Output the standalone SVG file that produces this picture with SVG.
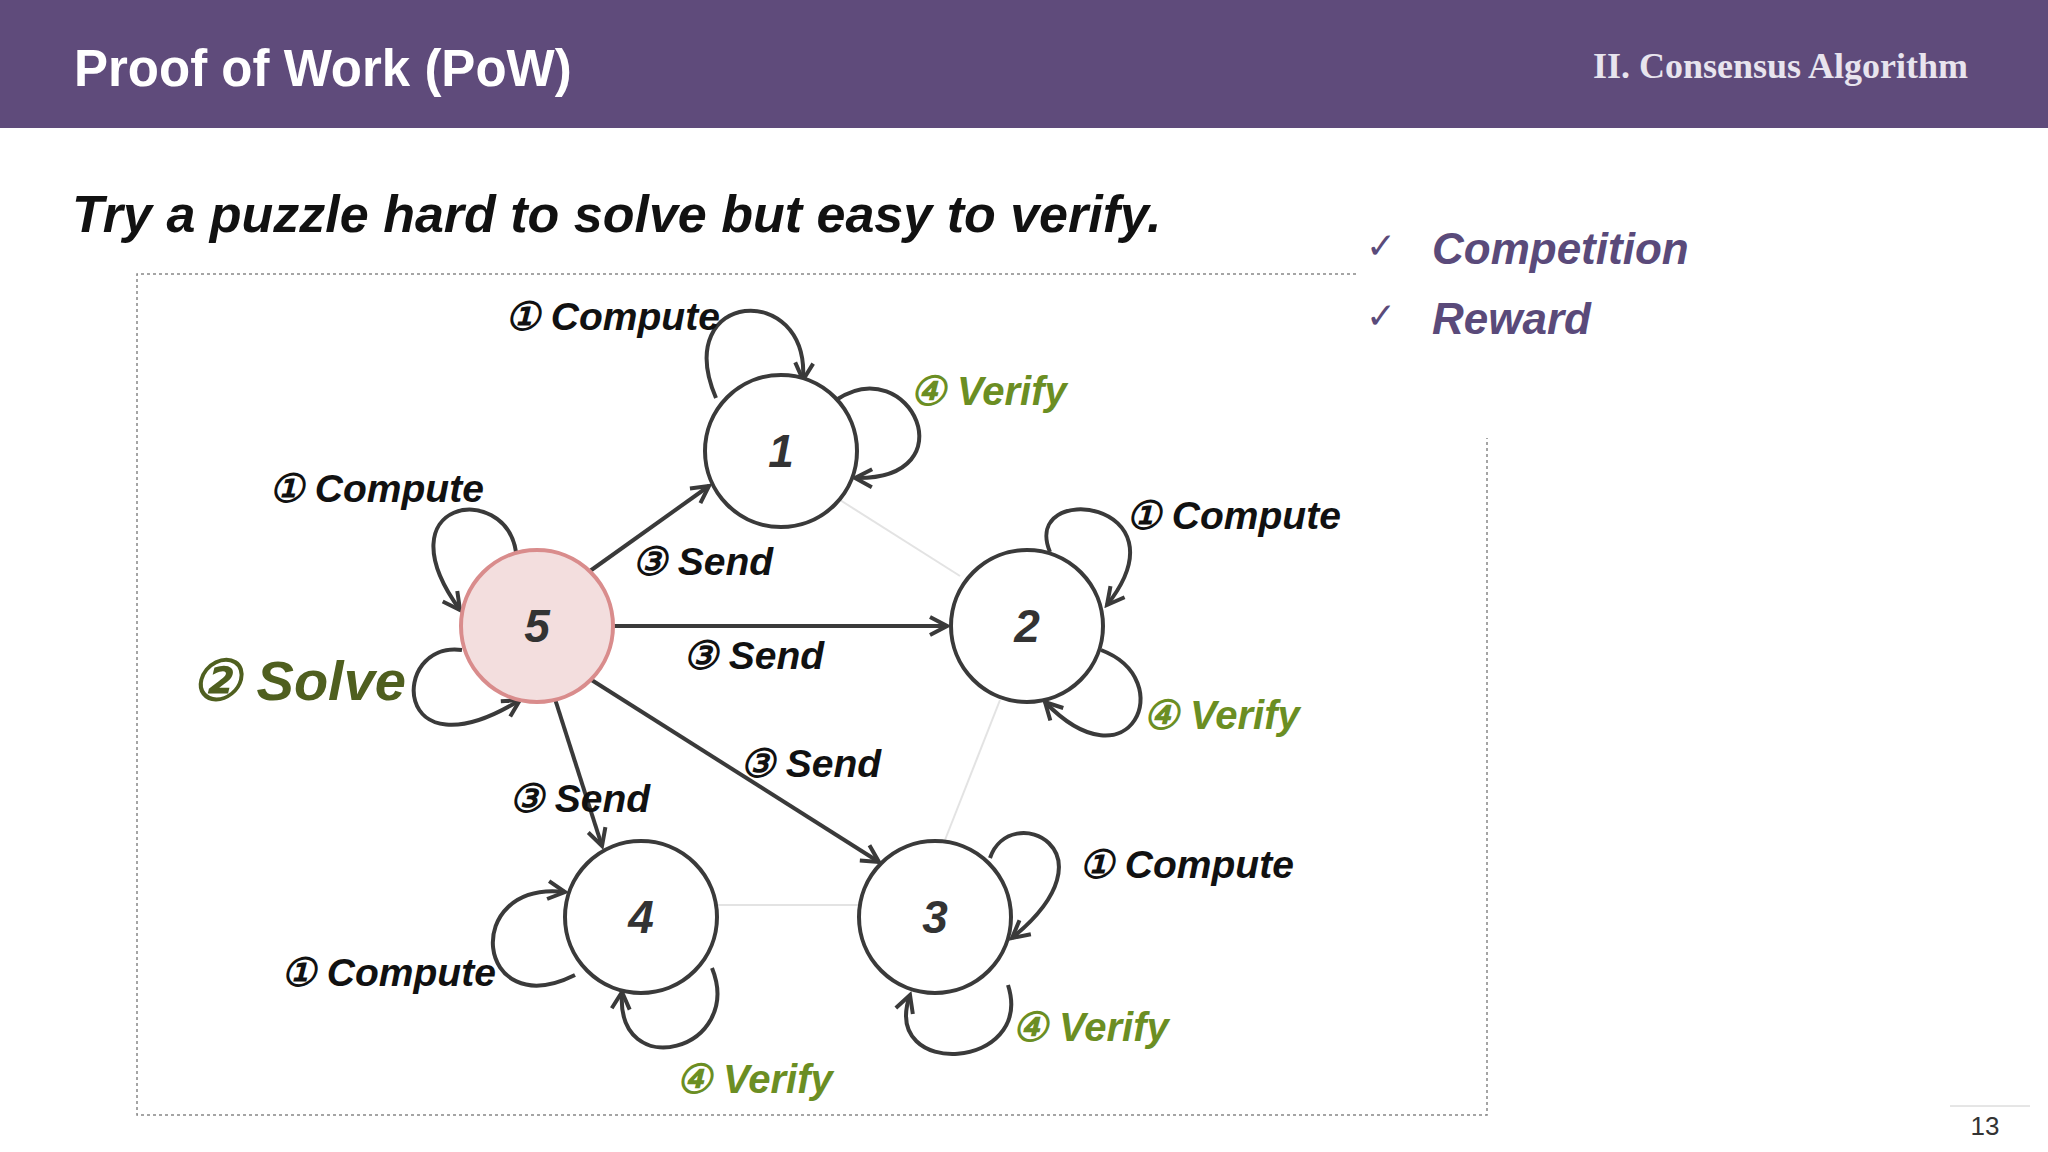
<svg xmlns="http://www.w3.org/2000/svg" width="2048" height="1152" viewBox="0 0 2048 1152">
<style>
.n{fill:#fff;stroke:#3a3a3a;stroke-width:4}
.num{font-family:"Liberation Sans",sans-serif;font-style:italic;font-weight:bold;font-size:46px;fill:#333;text-anchor:middle}
.lbl{font-family:"Liberation Sans",sans-serif;font-style:italic;font-weight:bold;font-size:39px;fill:#111}
.ver{font-family:"Liberation Sans",sans-serif;font-style:italic;font-weight:bold;font-size:40px;fill:#6b8e23}
.c{fill:none;stroke:#3a3a3a;stroke-width:4}
.faint{stroke:#e3e3e3;stroke-width:2}
.chk{font-family:"Liberation Sans",sans-serif;font-style:italic;font-weight:bold;font-size:44px;fill:#5a4a7a}
</style>
<defs>
<marker id="b" markerWidth="24" markerHeight="24" refX="20" refY="12" orient="auto" markerUnits="userSpaceOnUse" viewBox="0 0 24 24">
<path d="M3 3 L20 12 L3 21" fill="none" stroke="#3a3a3a" stroke-width="4"/>
</marker>
</defs>
<rect width="2048" height="1152" fill="#fff"/>
<rect width="2048" height="128" fill="#5f4b7b"/>
<text x="74" y="86" font-family="Liberation Sans,sans-serif" font-weight="bold" font-size="51" fill="#fff">Proof of Work (PoW)</text>
<text x="1968" y="78" text-anchor="end" font-family="Liberation Serif,serif" font-weight="bold" font-size="36" fill="#e8e4ee">II. Consensus Algorithm</text>
<text x="72" y="232" font-family="Liberation Sans,sans-serif" font-style="italic" font-weight="bold" font-size="52" fill="#111">Try a puzzle hard to solve but easy to verify.</text>
<path d="M1356 274 H137 V1115 H1487 V438" fill="none" stroke="#888" stroke-width="1.5" stroke-dasharray="3 3"/>
<g id="checklist">
<text x="1366" y="258" font-family="DejaVu Sans,sans-serif" font-size="36" fill="#5a4a7a">✓</text>
<text x="1432" y="264" class="chk">Competition</text>
<text x="1366" y="328" font-family="DejaVu Sans,sans-serif" font-size="36" fill="#5a4a7a">✓</text>
<text x="1432" y="334" class="chk">Reward</text>
</g>
<g id="connectors">
<line x1="840" y1="500" x2="960" y2="576" class="faint"/>
<line x1="1000" y1="700" x2="945" y2="840" class="faint"/>
<line x1="718" y1="905" x2="858" y2="905" class="faint"/>
<line x1="590" y1="571" x2="709" y2="486" class="c" marker-end="url(#b)"/>
<line x1="614" y1="626" x2="947" y2="626" class="c" marker-end="url(#b)"/>
<line x1="555" y1="699" x2="602" y2="846" class="c" marker-end="url(#b)"/>
<line x1="590" y1="679" x2="879" y2="862" class="c" marker-end="url(#b)"/>
<path d="M516 552 C505 480 380 500 460 610" class="c" marker-end="url(#b)"/>
<path d="M462 650 C390 640 390 780 520 700" class="c" marker-end="url(#b)"/>
<path d="M716 398 C670 290 810 280 803 380" class="c" marker-end="url(#b)"/>
<path d="M836 400 C910 350 970 480 855 478" class="c" marker-end="url(#b)"/>
<path d="M1050 552 C1020 480 1190 500 1107 605" class="c" marker-end="url(#b)"/>
<path d="M1101 650 C1180 680 1130 790 1045 702" class="c" marker-end="url(#b)"/>
<path d="M990 858 C1010 800 1120 850 1012 938" class="c" marker-end="url(#b)"/>
<path d="M1008 985 C1035 1070 880 1080 910 995" class="c" marker-end="url(#b)"/>
<path d="M575 975 C475 1025 460 880 565 892" class="c" marker-end="url(#b)"/>
<path d="M712 968 C745 1050 615 1085 622 992" class="c" marker-end="url(#b)"/>
</g>
<g id="node1"><circle cx="781" cy="451" r="76" class="n"/><text x="781" y="467" class="num">1</text></g>
<g id="node2"><circle cx="1027" cy="626" r="76" class="n"/><text x="1027" y="642" class="num">2</text></g>
<g id="node3"><circle cx="935" cy="917" r="76" class="n"/><text x="935" y="933" class="num">3</text></g>
<g id="node4"><circle cx="641" cy="917" r="76" class="n"/><text x="641" y="933" class="num">4</text></g>
<g id="node5"><circle cx="537" cy="626" r="76" fill="#f3dede" stroke="#d98c8c" stroke-width="4"/><text x="537" y="642" class="num">5</text></g>
<g id="labels">
<text x="505" y="330" class="lbl">① Compute</text>
<text x="269" y="502" class="lbl">① Compute</text>
<text x="1126" y="529" class="lbl">① Compute</text>
<text x="1079" y="878" class="lbl">① Compute</text>
<text x="281" y="986" class="lbl">① Compute</text>
<text x="632" y="575" class="lbl">③ Send</text>
<text x="683" y="669" class="lbl">③ Send</text>
<text x="509" y="812" class="lbl">③ Send</text>
<text x="740" y="777" class="lbl">③ Send</text>
<text x="910" y="405" class="ver">④ Verify</text>
<text x="1143" y="729" class="ver">④ Verify</text>
<text x="1012" y="1041" class="ver">④ Verify</text>
<text x="676" y="1093" class="ver">④ Verify</text>
<text x="191" y="700" font-family="Liberation Sans,sans-serif" font-style="italic" font-weight="bold" font-size="56" fill="#4f5f1f">② Solve</text>
</g>
<line x1="1950" y1="1106" x2="2030" y2="1106" stroke="#ccc" stroke-width="1"/>
<text x="1985" y="1135" text-anchor="middle" font-family="Liberation Sans,sans-serif" font-size="26" fill="#333">13</text>
</svg>
